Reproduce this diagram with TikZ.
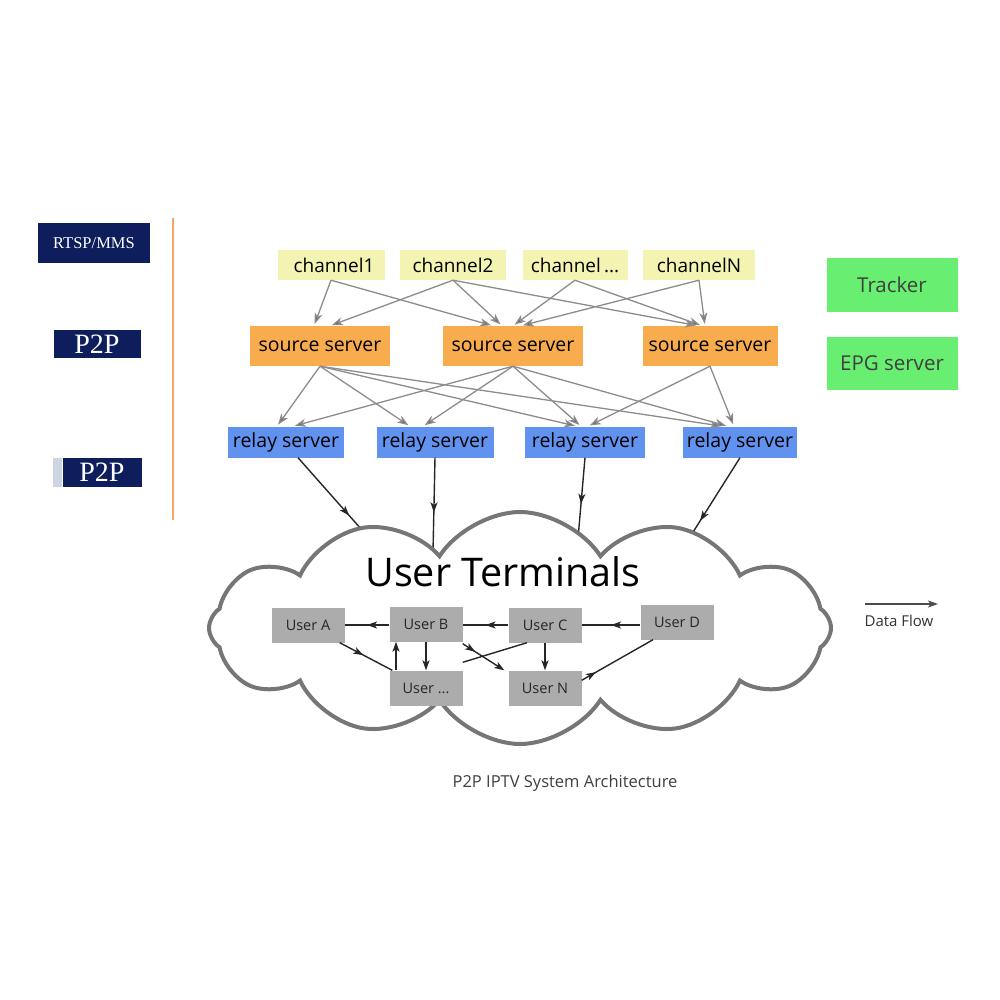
\documentclass[tikz,border=0pt]{standalone}
\usepackage{fontspec}
\setmainfont{Open Sans}
\newfontfamily\labelfont{Liberation Serif}
\usetikzlibrary{arrows, arrows.meta, decorations.markings, shapes.symbols, calc, positioning}

\definecolor{chanyellow}{RGB}{244,244,178}
\definecolor{srcorange}{RGB}{248,172,78}
\definecolor{relayblue}{RGB}{98,146,240}
\definecolor{trkgreen}{RGB}{104,238,112}
\definecolor{usergray}{RGB}{172,172,172}
\definecolor{navy}{RGB}{14,30,92}
\definecolor{stripgray}{RGB}{205,212,226}
\definecolor{lineorange}{RGB}{246,164,104}
\definecolor{edgegray}{RGB}{140,140,140}
\definecolor{cloudgray}{RGB}{118,118,118}

\tikzset{
	chanbox/.style={fill=chanyellow, minimum width=107pt, minimum height=30pt, inner sep=0pt, font=\fontsize{19}{21}\selectfont},
	srcbox/.style={fill=srcorange, minimum width=140pt, minimum height=40pt, inner sep=0pt, font=\fontsize{19.5}{21}\selectfont},
	relaybox/.style={fill=relayblue, minimum width=116pt, minimum height=31pt, inner sep=0pt, font=\fontsize{19.5}{21}\selectfont},
	greenbox/.style={fill=trkgreen, minimum width=131pt, minimum height=54pt, inner sep=0pt, text=black!75, font=\fontsize{20.5}{22}\selectfont},
	userbox/.style={fill=usergray, minimum width=73pt, minimum height=35pt, inner sep=0pt, text=black!85, font=\fontsize{14.5}{16}\selectfont},
	protobox/.style={fill=navy, text=white, inner sep=0pt, font=\labelfont},
	grayedge/.style={draw=edgegray, line width=1.3pt, -{Stealth[length=11pt, width=8pt, inset=3pt, fill=black!60]}, shorten >=2pt},
	useredge/.style={draw=black!85, line width=1.4pt},
	midarrow/.style={postaction={decorate}, decoration={markings, mark=at position #1 with {\arrow{>}}}},
	midarrow/.default=0.5
}

\begin{document}
\begin{tikzpicture}[>={Stealth[length=10pt, width=7pt, inset=2.5pt]}, x=1pt, y=-1pt]
		\fill[white] (0,0) rectangle (1000,1000); \useasboundingbox (0,0) rectangle (1000,1000);

		% protocol labels on the left
		\node[protobox, minimum width=112pt, minimum height=39pt, font=\labelfont\fontsize{16.5}{18}\selectfont] (rtsp) at (94,243) {RTSP/MMS};
		\node[protobox, minimum width=87pt, minimum height=28pt, font=\labelfont\fontsize{28}{30}\selectfont] (p2pa) at (97,344) {P2P};
		\node[protobox, minimum width=79pt, minimum height=29pt, font=\labelfont\fontsize{28}{30}\selectfont] (p2pb) at (102,472) {P2P};
		\node[fill=stripgray, minimum width=9pt, minimum height=29pt, inner sep=0pt, anchor=east] (strip) at (p2pb.west) {};
		\coordinate (ltop) at (173,218); \coordinate (lbot) at (173,520);
		\draw[lineorange, line width=2pt] (ltop) -- (lbot);

		% channels, sources, relays
		\node[chanbox] (ch1) at (331,265) {\hspace{6pt}channel1}; \node[chanbox, minimum width=106pt] (ch2) at (453,265) {channel2};
		\node[chanbox, minimum width=105pt] (chx) at (575,265) {channel\,...}; \node[chanbox, minimum width=112pt] (chN) at (699,265) {channelN};

		\node[srcbox] (s1) at (320,346) {source server}; \node[srcbox] (s2) at (513,346) {source server}; \node[srcbox, minimum width=135pt] (s3) at (710,346) {source server};

		\node[relaybox] (r1) at (286,442) {relay server}; \node[relaybox, minimum width=117pt] (r2) at (435,442) {relay server};
		\node[relaybox, minimum width=120pt] (r3) at (585,442) {relay server}; \node[relaybox, minimum width=114pt] (r4) at (740,442) {relay server};

		\node[greenbox] (trk) at (892,285) {Tracker}; \node[greenbox, minimum height=53pt] (epg) at (892,363) {EPG server};

		\draw[grayedge] (ch1.south) -- ([xshift=-6pt]s1.north); \draw[grayedge] (ch1.south) -- ([xshift=-20pt]s2.north);
		\draw[grayedge] (ch2.south) -- ([xshift=10pt]s1.north); \draw[grayedge] (ch2.south) -- ([xshift=-11pt]s2.north); \draw[grayedge] (ch2.south) -- ([xshift=-12pt]s3.north);
		\draw[grayedge] (chx.south) -- ([xshift=0pt]s2.north); \draw[grayedge] (chx.south) -- ([xshift=-8pt]s3.north);
		\draw[grayedge] (chN.south) -- ([xshift=8pt]s2.north); \draw[grayedge] (chN.south) -- ([xshift=-5pt]s3.north);

		\draw[grayedge] (s1.south) -- ([xshift=-9pt]r1.north); \draw[grayedge] (s1.south) -- ([xshift=-25pt]r2.north);
		\draw[grayedge] (s1.south) -- ([xshift=-8pt]r3.north); \draw[grayedge] (s1.south) -- ([xshift=-17pt]r4.north);
		\draw[grayedge] (s2.south) -- ([xshift=7pt]r1.north); \draw[grayedge] (s2.south) -- ([xshift=-12pt]r2.north);
		\draw[grayedge] (s2.south) -- ([xshift=-4pt]r3.north); \draw[grayedge] (s2.south) -- ([xshift=-12pt]r4.north);
		\draw[grayedge] (s3.south) -- ([xshift=3pt]r3.north); \draw[grayedge] (s3.south) -- ([xshift=-6pt]r4.north);

		% user terminals cloud
		\coordinate (e1) at (362,530); \coordinate (e2) at (433,552); \coordinate (e3) at (577,550); \coordinate (e4) at (683,548);
		\draw[useredge, midarrow=0.8] ([xshift=12pt]r1.south) -- (e1); \draw[useredge, midarrow=0.58] (r2.south) -- (e2);
		\draw[useredge, midarrow=0.5] (r3.south) -- (e3); \draw[useredge, midarrow=0.7] (r4.south) -- (e4);

		\node[cloud, cloud puffs=12, cloud puff arc=115, aspect=2.7, draw=cloudgray, fill=white, line width=4pt, minimum width=622pt, minimum height=232pt] (net) at (520,628) {};
		\node[font=\fontsize{39.5}{42}\selectfont] (ut) at (503,572) {User Terminals};

		\node[userbox] (ua) at (308,625) {User A}; \node[userbox] (ub) at (426,624) {User B};
		\node[userbox] (uc) at (545,625) {User C}; \node[userbox] (ud) at (677,622) {User D};
		\node[userbox] (ux) at (426,688) {User ...}; \node[userbox] (un) at (545,688) {User N};

		\draw[useredge, midarrow] (ub.west |- 0,625) -- (ua.east |- 0,625); \draw[useredge, midarrow] (uc.west |- 0,625) -- (ub.east |- 0,625); \draw[useredge, midarrow] (ud.west |- 0,625) -- (uc.east |- 0,625);
		\draw[useredge, midarrow=0.45] ([xshift=-5pt]ua.south east) -- ([xshift=3pt]ux.north west);
		\draw[useredge, ->] ([xshift=-30pt]ux.north) -- ([xshift=-30pt]ub.south); \draw[useredge, ->] (ub.south) -- (ux.north);
		\draw[useredge, ->, midarrow=0.3] ([yshift=-2pt]ub.south east) -- ([xshift=-4pt]un.north west);
		\draw[useredge] ([yshift=8pt]ux.north east) -- ([xshift=-18pt]uc.south);
		\draw[useredge, ->] (uc.south) -- (un.north);
		\draw[useredge, midarrow=0.2] ([yshift=-10pt]un.north east) -- ([xshift=-24pt]ud.south);

		% legend and caption
		\coordinate (df1) at (865,604); \coordinate (df2) at (938,604);
		\draw[draw=black!70, line width=1.6pt, ->] (df1) -- (df2);
		\node[text=black!80, font=\fontsize{15}{17}\selectfont] (dfl) at (899,621) {Data Flow};
		\node[text=black!75, font=\fontsize{16.5}{18}\selectfont] (cap) at (565,783) {P2P IPTV System Architecture};
\end{tikzpicture}
\end{document}
